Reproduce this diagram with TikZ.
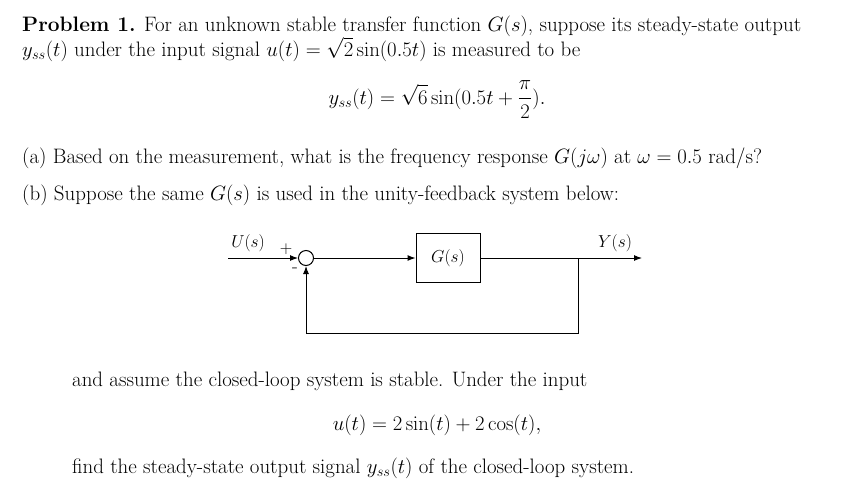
\documentclass[tikz,border=0pt]{standalone}
\usepackage{amsmath}
\usetikzlibrary{arrows.meta}
\begin{document}
\begin{tikzpicture}[x=1pt,y=-1pt,
  txt/.style={anchor=base west,inner sep=0,font=\fontsize{20.9}{24}\selectfont},
  ctr/.style={anchor=base,inner sep=0,font=\fontsize{20.9}{24}\selectfont},
  lbl/.style={inner sep=0,font=\fontsize{19}{21}\selectfont},
  blk/.style={draw,line width=1pt,minimum width=64pt,minimum height=49pt,inner sep=0,font=\fontsize{19}{21}\selectfont},
  sum/.style={draw,circle,line width=1pt,minimum size=15pt,inner sep=0},
  wire/.style={line width=1pt},
  arr/.style={wire,-{Latex[length=8pt,width=6pt]}}]
\useasboundingbox (0,0) rectangle (862,496);
\node[txt] (l1) at (22,31) {\textbf{Problem 1.} For an unknown stable transfer function $G(s)$, suppose its steady-state output};
\node[txt] (l2) at (22,56) {$y_{ss}(t)$ under the input signal $u(t)=\sqrt{2}\sin(0.5t)$ is measured to be};
\node[ctr] (eq1) at (437,104) {$\displaystyle y_{ss}(t)=\sqrt{6}\sin(0.5t+\frac{\pi}{2}).$};
\node[txt] (pa) at (22,163) {(a) Based on the measurement, what is the frequency response $G(j\omega)$ at $\omega=0.5$ rad/s?};
\node[txt] (pb) at (22,200) {(b) Suppose the same $G(s)$ is used in the unity-feedback system below:};
\coordinate (in) at (228,258);
\node[sum] (s) at (306,258) {};
\node[blk] (g) at (448,258) {$G(s)$};
\coordinate (br) at (578,258);
\coordinate (out) at (642,258);
\coordinate (c1) at (578,333);
\coordinate (c2) at (306,333);
\draw[arr] (in) -- (s.west);
\draw[arr] (s.east) -- (g.west);
\draw[arr] (g.east) -- (out);
\draw[arr] (br) -- (c1) -- (c2) -- (s.south);
\node[lbl] (u) at (248,243) {$U(s)$};
\node[lbl] (y) at (615,243) {$Y(s)$};
\node[lbl] (p) at (286,249) {$+$};
\node[lbl] (m) at (295,270) {-};
\node[txt] (l3) at (72,386) {and assume the closed-loop system is stable. Under the input};
\node[ctr] (eq2) at (437,430) {$u(t)=2\sin(t)+2\cos(t),$};
\node[txt] (l4) at (72,473) {find the steady-state output signal $y_{ss}(t)$ of the closed-loop system.};
\end{tikzpicture}
\end{document}
